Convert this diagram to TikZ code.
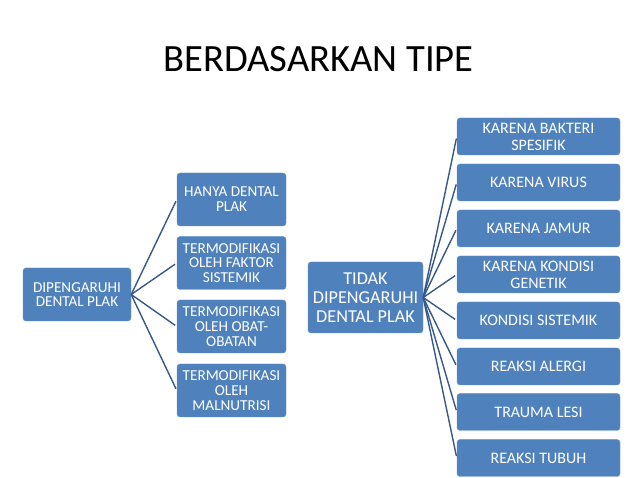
\documentclass[tikz,border=0pt]{standalone}
\usepackage{fontspec}
\setmainfont{Carlito}
\definecolor{boxblue}{RGB}{79,129,189}
\definecolor{lineblue}{RGB}{55,88,138}
\begin{document}
\begin{tikzpicture}[x=1pt,y=-1pt,
  box/.style={fill=boxblue, draw=boxblue!85!white, line width=0.4pt, rounded corners=3pt, text=white, align=center, inner sep=1pt},
  lbox/.style={box, minimum width=109pt, minimum height=53pt, font=\fontsize{15.2}{14.8}\selectfont},
  rbox/.style={box, minimum width=163pt, minimum height=37pt, font=\fontsize{16}{17}\selectfont},
  conn/.style={draw=lineblue, line width=1.4pt}]
\useasboundingbox (0,0) rectangle (638,478);
\fill[white] (0,0) rectangle (638,478);
\node[font=\fontsize{38.6}{40}\selectfont, anchor=base] (title) at (318.5,72) {BERDASARKAN TIPE};
% left tree
\node[lbox, minimum width=108pt] (L) at (77,294.5) {DIPENGARUHI\\DENTAL PLAK};
\node[lbox] (L1) at (231.5,199.5) {HANYA DENTAL\\PLAK};
\node[lbox] (L2) at (231.5,263) {TERMODIFIKASI\\OLEH FAKTOR\\SISTEMIK};
\node[lbox] (L3) at (231.5,326.5) {TERMODIFIKASI\\OLEH OBAT-\\OBATAN};
\node[lbox] (L4) at (231.5,390.5) {TERMODIFIKASI\\OLEH\\MALNUTRISI};
\foreach \c in {L1,L2,L3,L4} \draw[conn, shorten >=2pt] (L.east) -- (\c.west);
% right tree
\node[box, minimum width=115pt, minimum height=71pt, font=\fontsize{18.2}{19}\selectfont] (R) at (365.5,297.5) {TIDAK\\DIPENGARUHI\\DENTAL PLAK};
\node[rbox] (R1) at (538.5,136.5) {KARENA BAKTERI\\SPESIFIK};
\node[rbox] (R2) at (538.5,182.5) {KARENA VIRUS};
\node[rbox] (R3) at (538.5,228.5) {KARENA JAMUR};
\node[rbox] (R4) at (538.5,274.5) {KARENA KONDISI\\GENETIK};
\node[rbox] (R5) at (538.5,320.5) {KONDISI SISTEMIK};
\node[rbox] (R6) at (538.5,366.5) {REAKSI ALERGI};
\node[rbox] (R7) at (538.5,412) {TRAUMA LESI};
\node[rbox] (R8) at (538.5,458) {REAKSI TUBUH};
\foreach \c in {R1,R2,R3,R4,R5,R6,R7,R8} \draw[conn, shorten >=2pt] (R.east) -- (\c.west);
\end{tikzpicture}
\end{document}
